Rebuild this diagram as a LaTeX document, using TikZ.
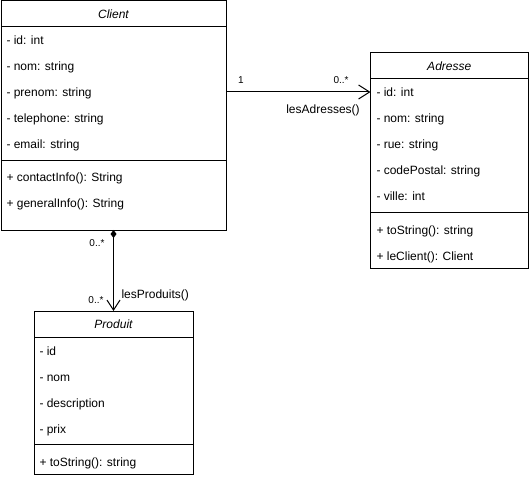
\documentclass[tikz,border=0pt]{standalone}
\usepackage{fontspec}
\setmainfont{Liberation Sans}
\usepackage{tikz}
\usetikzlibrary{arrows.meta}

\begin{document}
\begin{tikzpicture}[x=1pt, y=-1pt, line width=1pt,
        font=\fontsize{12}{14}\selectfont,
        classbox/.style={draw, rectangle, anchor=north west, inner sep=0pt, outer sep=0pt},
        classname/.style={font=\fontsize{12}{14}\selectfont\itshape, inner sep=0pt},
        member/.style={anchor=west, inner sep=0pt, text height=8.5pt, text depth=0pt},
        mult/.style={font=\fontsize{10}{12}\selectfont, inner sep=0pt, text height=7pt, text depth=0pt},
        assoc/.style={-{Straight Barb[length=11pt, width=14pt]}},
        compo/.style={{Diamond[length=8pt, width=6pt]}-{Straight Barb[length=10pt, width=13pt]}}]
        \useasboundingbox (0,0) rectangle (532,478);

        % Client
        \node[classbox, minimum width=225pt, minimum height=229pt] (cl) at (1,1) {};
        \node[classname] (cl0) at (113.5,14) {Client};
        \draw (cl.west |- 0,26.5) -- (cl.east |- 0,26.5);
        \node[member] (cl1) at (6,40) {- id: int};
        \node[member] (cl2) at (6,66) {- nom: string};
        \node[member] (cl3) at (6,92) {- prenom: string};
        \node[member] (cl4) at (6,118) {- telephone: string};
        \node[member] (cl5) at (6,144) {- email: string};
        \draw (cl.west |- 0,160.5) -- (cl.east |- 0,160.5);
        \node[member] (cm1) at (6,177.5) {+ contactInfo(): String};
        \node[member] (cm2) at (6,203.5) {+ generalInfo(): String};

        % Adresse
        \node[classbox, minimum width=157.5pt, minimum height=215pt] (ad) at (370.5,53) {};
        \node[classname] (ad0) at (449.25,66) {Adresse};
        \draw (ad.west |- 0,79) -- (ad.east |- 0,79);
        \node[member] (ad1) at (376,92) {- id: int};
        \node[member] (ad2) at (376,118) {- nom: string};
        \node[member] (ad3) at (376,144) {- rue: string};
        \node[member] (ad4) at (376,170) {- codePostal: string};
        \node[member] (ad5) at (376,196) {- ville: int};
        \draw (ad.west |- 0,212.5) -- (ad.east |- 0,212.5);
        \node[member] (am1) at (376,230) {+ toString(): string};
        \node[member] (am2) at (376,256) {+ leClient(): Client};

        % Produit
        \node[classbox, minimum width=159pt, minimum height=163pt] (pr) at (34,311) {};
        \node[classname] (pr0) at (113.5,324.5) {Produit};
        \draw (pr.west |- 0,337.5) -- (pr.east |- 0,337.5);
        \node[member] (pr1) at (39,351) {- id};
        \node[member] (pr2) at (39,377) {- nom};
        \node[member] (pr3) at (39,403) {- description};
        \node[member] (pr4) at (39,429) {- prix};
        \draw (pr.west |- 0,444.5) -- (pr.east |- 0,444.5);
        \node[member] (pm1) at (39,462.5) {+ toString(): string};

        % Client -> Adresse
        \draw[assoc] (cl.east |- ad1) -- (ad.west |- ad1);
        \node[mult] at (241,80) {1};
        \node[mult] at (341,80) {0..*};
        \node at (323,110) {lesAdresses()};

        % Client -> Produit
        \draw[compo] (cl.south) -- (pr.north);
        \node[mult] at (97,243) {0..*};
        \node[mult] at (96,300) {0..*};
        \node[anchor=west, inner sep=0pt] at (121,295) {lesProduits()};
    \end{tikzpicture}
\end{document}
